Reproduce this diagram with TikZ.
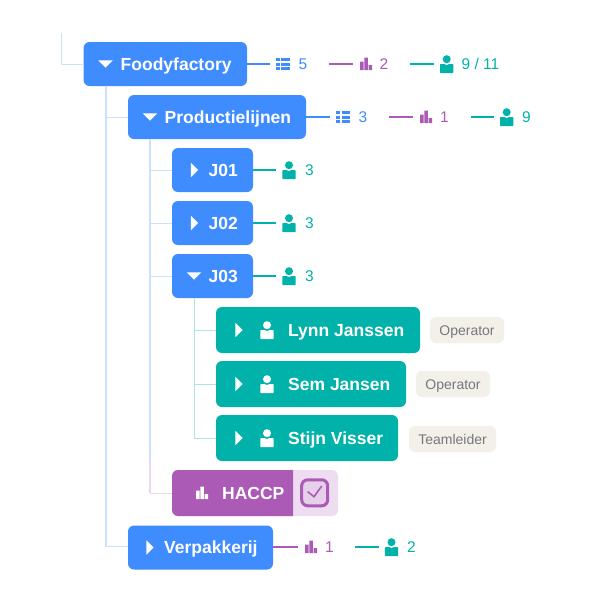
\documentclass[tikz,border=0pt]{standalone}
\usepackage{fontspec}
\setmainfont{Liberation Sans}
\definecolor{cblue}{HTML}{3F8CFF}
\definecolor{cteal}{HTML}{00B2A9}
\definecolor{cpurp}{HTML}{AB5AB5}
\definecolor{clight}{HTML}{EEDDF0}
\definecolor{ccheck}{HTML}{E6D0E9}
\definecolor{ctag}{HTML}{F3EFE9}
\definecolor{ctagtx}{HTML}{77787C}
\definecolor{ltblue}{HTML}{CFE0FF}
\definecolor{ltteal}{HTML}{AAE6E2}
\definecolor{ltpurp}{HTML}{EBD7EE}
\tikzset{
  x=1pt,y=-1pt,
  boxn/.style={rectangle,rounded corners=6pt,inner sep=0pt,outer sep=0pt,minimum height=44pt},
  bluebox/.style={boxn,fill=cblue},
  tealbox/.style={boxn,fill=cteal,minimum height=46pt},
  title/.style={anchor=base west,inner sep=0pt,text=white,font=\fontsize{17.5}{20}\selectfont\bfseries},
  val/.style={anchor=base west,inner sep=0pt,font=\fontsize{15.5}{18}\selectfont},
  tagn/.style={rectangle,rounded corners=6pt,fill=ctag,minimum height=26pt,inner sep=0pt,text height=12pt,text depth=2pt,text=ctagtx,font=\fontsize{14}{16}\selectfont},
  holder/.style={rectangle,inner sep=0pt,outer sep=0pt,minimum width=26pt,minimum height=14pt},
  tree/.style={line width=1pt,ltblue},
  treev/.style={line width=1.8pt,ltblue},
  stem/.style={line width=1.8pt},
  tridown/.pic={\fill[white] (-7.2,-3.7) -- (7.2,-3.7) -- (0,3.7) -- cycle;},
  triright/.pic={\fill[white] (-3.7,-7.2) -- (3.7,0) -- (-3.7,7.2) -- cycle;},
  listicon/.pic={\foreach \yy in {-5.7,-1.2,3.3}{\fill (-7,\yy) rectangle (-3.3,\yy+3);\fill (-1.8,\yy) rectangle (7,\yy+3);}},
  charticon/.pic={\fill (-6,-2.5) rectangle (-2.5,6) (-1.7,-6.5) rectangle (1.8,6) (2.6,1) rectangle (6,6);},
  personicon/.pic={\fill (0,-4.8) circle (4);
    \fill[rounded corners=0.6pt] (-6.6,9) -- (-6.6,0) -- (-2.8,0) -- (0,1) -- (2.8,0) -- (6.6,0) -- (6.6,9) -- cycle;},
}
\newcommand{\stat}[7]{% id, from, colour, icon, icon centre, text x, value
  \node[holder] (#1) at (#5) {};
  \pic[#3] at (#1) {#4};
  \draw[stem,#3] (#2) -- (#1.west);
  \path (#1.center) ++(0,5.5) coordinate (#1b);
  \node[val,text=#3] (#1v) at (#1b -| #6,0) {#7};
}
\begin{document}
\begin{tikzpicture}
\useasboundingbox[fill=white] (0,0) rectangle (600,600);
% boxes
\node[bluebox,minimum width=163.5pt] (f) at (165.25,64) {};
\node[bluebox,minimum width=178pt] (p) at (217,117) {};
\node[bluebox,minimum width=81pt] (j1) at (212.5,170) {};
\node[bluebox,minimum width=81pt] (j2) at (212.5,223) {};
\node[bluebox,minimum width=81pt] (j3) at (212.5,276) {};
\node[tealbox,minimum width=204pt] (ly) at (318,330) {};
\node[tealbox,minimum width=190pt] (se) at (311,384) {};
\node[tealbox,minimum width=182pt] (st) at (307,438) {};
\node[boxn,fill=clight,minimum width=166pt,minimum height=46pt] (h) at (255,493) {};
\begin{scope}
  \clip (172,465) rectangle (293,520);
  \fill[cpurp,rounded corners=6pt] (172,470) rectangle (330,516);
\end{scope}
\node[bluebox,minimum width=145pt] (v) at (200.5,547.5) {};
% tree
\coordinate (top) at (61,33);
\coordinate (fv) at ([xshift=22.5pt]f.south west);
\coordinate (pv) at ([xshift=22pt]p.south west);
\coordinate (jv) at ([xshift=22pt]j3.south west);
\coordinate (pm) at (pv |- st.south);
\coordinate (ve) at ([yshift=0.7pt]v.west);
\draw[tree] (top) |- (f.west);
\draw[tree] (fv |- p.west) -- (p.west);
\draw[tree] (fv |- ve) -- (ve);
\draw[treev] (fv) -- (fv |- ve);
\draw[tree] (pv |- j1.west) -- (j1.west);
\draw[tree] (pv |- j2.west) -- (j2.west);
\draw[tree] (pv |- j3.west) -- (j3.west);
\draw[tree,ltpurp] (pv |- h.west) -- (h.west);
\draw[treev,ltpurp] (pm) -- (pv |- h.west);
\draw[treev] (pv) -- (pm);
\draw[tree,ltteal] (jv) |- (ly.west);
\draw[tree,ltteal] (jv) |- (se.west);
\draw[tree,ltteal] (jv) |- (st.west);
% box contents
\pic at (105.5,64) {tridown};
\node[title] (ft) at (120.5,70) {Foodyfactory};
\pic at (150,117) {tridown};
\node[title] (pt) at (164.5,123) {Productielijnen};
\pic at (194.5,170) {triright};
\node[title] (j1t) at (208.5,176) {J01};
\pic at (194.5,223) {triright};
\node[title] (j2t) at (208.5,229) {J02};
\pic at (194,276) {tridown};
\node[title] (j3t) at (208.5,282) {J03};
\pic at (239,330) {triright};
\pic[white] at (267,330) {personicon};
\node[title] (lyt) at (288,336) {Lynn Janssen};
\pic at (239,384) {triright};
\pic[white] at (267,384) {personicon};
\node[title] (set) at (288,390) {Sem Jansen};
\pic at (239,438) {triright};
\pic[white] at (267,438) {personicon};
\node[title] (stt) at (288,444) {Stijn Visser};
\pic[white] at (202,493) {charticon};
\node[title] (ht) at (222,499) {HACCP};
\node[draw=cpurp,line width=3pt,fill=ccheck,rounded corners=6pt,minimum size=26pt,inner sep=0pt] (hc) at (314.7,492.8) {};
\draw[cpurp,line width=1.6pt] (307.7,491.7) -- (314,496.7) -- (321.7,486);
\node[title] (vt) at (164,553) {Verpakkerij};
\pic at (150,547.5) {triright};
% tags
\node[tagn,minimum width=74pt] (t1) at (467,330) {Operator};
\node[tagn,minimum width=74pt] (t2) at (453,384) {Operator};
\node[tagn,minimum width=87pt] (t3) at (452.5,439) {Teamleider};
% stats
\stat{a1}{f.east}{cblue}{listicon}{283,64}{298.5}{5}
\coordinate (a2s) at (329,64);
\stat{a2}{a2s}{cpurp}{charticon}{366,64}{379.5}{2}
\coordinate (a3s) at (410,64);
\stat{a3}{a3s}{cteal}{personicon}{446.7,64}{461.5}{9 / 11}
\stat{b1}{p.east}{cblue}{listicon}{343.3,117}{358.5}{3}
\coordinate (b2s) at (389,117);
\stat{b2}{b2s}{cpurp}{charticon}{426,117}{440}{1}
\coordinate (b3s) at (471,117);
\stat{b3}{b3s}{cteal}{personicon}{506.7,117}{522}{9}
\stat{c1}{j1.east}{cteal}{personicon}{289,170}{305}{3}
\stat{c2}{j2.east}{cteal}{personicon}{289,223}{305}{3}
\stat{c3}{j3.east}{cteal}{personicon}{289,276}{305}{3}
\coordinate (d1s) at (273,547);
\stat{d1}{d1s}{cpurp}{charticon}{311,547}{325}{1}
\coordinate (d2s) at (355,547);
\stat{d2}{d2s}{cteal}{personicon}{391.5,547}{407}{2}
\end{tikzpicture}
\end{document}
